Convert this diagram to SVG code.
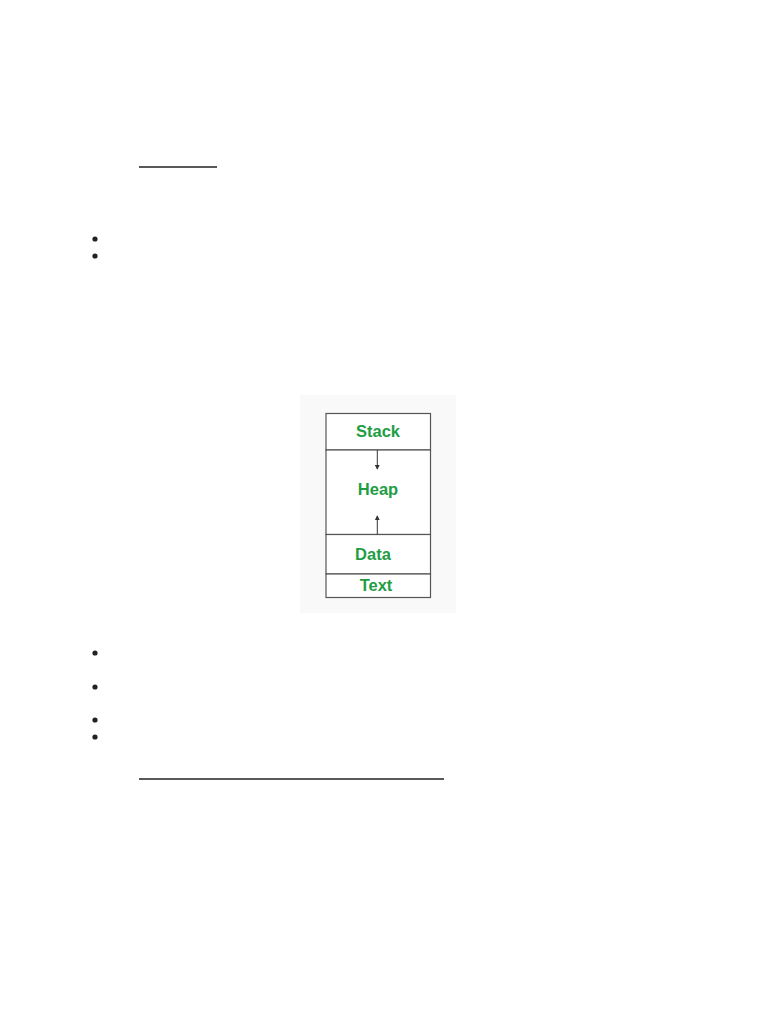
<svg xmlns="http://www.w3.org/2000/svg" width="768" height="1024" viewBox="0 0 768 1024">
<style>
.box{fill:#ffffff;stroke:#555555;stroke-width:1.2}
.lbl{font-family:"Liberation Sans",Arial,sans-serif;font-weight:bold;font-size:16.5px;fill:#1f9d45;text-anchor:middle}
.rule{stroke:#222222;stroke-width:1.6}
.bul{fill:#222222}
.arr{stroke:#333333;stroke-width:1;fill:none}
</style>
<defs>
<marker id="ah" viewBox="0 0 6 6" refX="5" refY="3" markerWidth="5" markerHeight="5" orient="auto">
<path d="M0,0 L6,3 L0,6 z" fill="#333333"/>
</marker>
</defs>
<rect width="768" height="1024" fill="#ffffff"/>
<line class="rule" x1="139" y1="167" x2="217" y2="167"/>
<circle class="bul" cx="95" cy="239" r="2.6"/>
<circle class="bul" cx="95" cy="256" r="2.6"/>
<rect x="300" y="395" width="156" height="218" fill="#f9f9f9"/>
<g id="stack"><rect class="box" x="326" y="413.5" width="104.5" height="36.5"/><text class="lbl" x="378" y="437">Stack</text></g>
<g id="heap"><rect class="box" x="326" y="450" width="104.5" height="84.5"/><text class="lbl" x="378" y="495">Heap</text></g>
<g id="data"><rect class="box" x="326" y="534.5" width="104.5" height="39.5"/><text class="lbl" x="373" y="560">Data</text></g>
<g id="text"><rect class="box" x="326" y="574" width="104.5" height="23.5"/><text class="lbl" x="376" y="591">Text</text></g>
<g id="connectors">
<line class="arr" x1="377.3" y1="450" x2="377.3" y2="469" marker-end="url(#ah)"/>
<line class="arr" x1="377.3" y1="534.5" x2="377.3" y2="516" marker-end="url(#ah)"/>
</g>
<circle class="bul" cx="95" cy="653" r="2.6"/>
<circle class="bul" cx="95" cy="687" r="2.6"/>
<circle class="bul" cx="95" cy="720" r="2.6"/>
<circle class="bul" cx="95" cy="737" r="2.6"/>
<line class="rule" x1="139" y1="779" x2="444" y2="779" stroke="#444444"/>
</svg>
